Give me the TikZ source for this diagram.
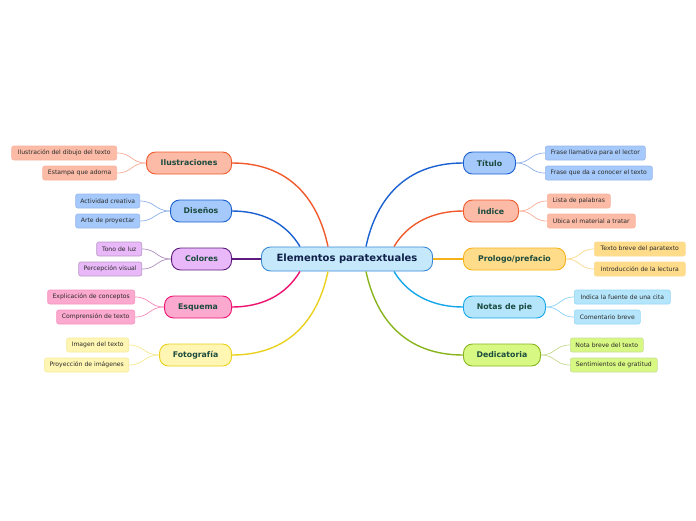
\documentclass[tikz,border=0pt]{standalone}
\usepackage{fontspec}
\setmainfont{DejaVu Sans}
\definecolor{cenfill}{HTML}{C5E9FB}
\definecolor{cenline}{HTML}{3A8AD8}
\definecolor{centext}{HTML}{10204A}
\definecolor{brtext}{HTML}{1B4B3E}
\definecolor{leaftext}{HTML}{2A2A2A}
\definecolor{orafill}{HTML}{FBBBA6}
\definecolor{oraline}{HTML}{F15A2B}
\definecolor{blufill}{HTML}{A5C9FA}
\definecolor{bluline}{HTML}{1A60D0}
\definecolor{purfill}{HTML}{E9B8F8}
\definecolor{purline}{HTML}{5E1C7E}
\definecolor{pinfill}{HTML}{FBA9CF}
\definecolor{pinline}{HTML}{EC1270}
\definecolor{yelfill}{HTML}{FFF6B3}
\definecolor{yelline}{HTML}{E9D11E}
\definecolor{golfill}{HTML}{FFDC8A}
\definecolor{golline}{HTML}{F7B21B}
\definecolor{cyafill}{HTML}{B5E5FB}
\definecolor{cyaline}{HTML}{16A6EA}
\definecolor{limfill}{HTML}{D8F884}
\definecolor{limline}{HTML}{88B51C}

\begin{document}
\begin{tikzpicture}[x=1pt, y=-1pt,
  central/.style={draw=cenline, fill=cenfill, line width=0.9pt, rounded corners=9pt,
    minimum height=24pt, inner sep=0pt, text=centext, font=\fontsize{10}{12}\selectfont\bfseries},
  branch/.style={line width=0.9pt, rounded corners=9pt, minimum height=22pt, inner sep=0pt,
    text=brtext, font=\fontsize{7.8}{9}\selectfont\bfseries},
  leaf/.style={line width=0.6pt, rounded corners=2pt, minimum height=14pt, inner sep=0pt,
    text=leaftext, font=\fontsize{6.1}{7}\selectfont},
  main/.style={line width=1.4pt},
  twig/.style={line width=0.7pt}]

\useasboundingbox (0,0) rectangle (696,520);

% centre
\node[central, minimum width=171pt] (cen) at (347,259) {Elementos paratextuales};

% left branches
\node[branch, draw=oraline, fill=orafill, minimum width=85pt, anchor=east] (ilu) at (232,163) {Ilustraciones};
\node[branch, draw=bluline, fill=blufill, minimum width=61pt, anchor=east] (dis) at (232,211) {Diseños};
\node[branch, draw=purline, fill=purfill, minimum width=60pt, anchor=east] (col) at (232,259) {Colores};
\node[branch, draw=pinline, fill=pinfill, minimum width=67pt, anchor=east] (esq) at (232,307) {Esquema};
\node[branch, draw=yelline, fill=yelfill, minimum width=72pt, anchor=east] (fot) at (232,355) {Fotografía};

% right branches
\node[branch, draw=bluline, fill=blufill, minimum width=52pt, anchor=west] (tit) at (463,163) {Título};
\node[branch, draw=oraline, fill=orafill, minimum width=55pt, anchor=west] (ind) at (463,211) {Índice};
\node[branch, draw=golline, fill=golfill, minimum width=102pt, anchor=west] (pro) at (463,259) {Prologo/prefacio};
\node[branch, draw=cyaline, fill=cyafill, minimum width=82pt, anchor=west] (not) at (463,307) {Notas de pie};
\node[branch, draw=limline, fill=limfill, minimum width=77pt, anchor=west] (ded) at (463,355) {Dedicatoria};

% left leaves
\node[leaf, draw=oraline!45, fill=orafill, minimum width=105pt, anchor=east] (ilu1) at (117,153) {Ilustración del dibujo del texto};
\node[leaf, draw=oraline!45, fill=orafill, minimum width=74pt, anchor=east] (ilu2) at (117,173) {Estampa que adorna};
\node[leaf, draw=bluline!45, fill=blufill, minimum width=64pt, anchor=east] (dis1) at (140,201) {Actividad creativa};
\node[leaf, draw=bluline!45, fill=blufill, minimum width=64pt, anchor=east] (dis2) at (140,221) {Arte de proyectar};
\node[leaf, draw=purline!45, fill=purfill, minimum width=45pt, anchor=east] (col1) at (142,249) {Tono de luz};
\node[leaf, draw=purline!45, fill=purfill, minimum width=63pt, anchor=east] (col2) at (142,269) {Percepción visual};
\node[leaf, draw=pinline!45, fill=pinfill, minimum width=87pt, anchor=east] (esq1) at (135,297) {Explicación de conceptos};
\node[leaf, draw=pinline!45, fill=pinfill, minimum width=78pt, anchor=east] (esq2) at (135,317) {Comprensión de texto};
\node[leaf, draw=yelline!45, fill=yelfill, minimum width=62pt, anchor=east] (fot1) at (129,345) {Imagen del texto};
\node[leaf, draw=yelline!45, fill=yelfill, minimum width=84pt, anchor=east] (fot2) at (129,365) {Proyección de imágenes};

% right leaves
\node[leaf, draw=bluline!45, fill=blufill, minimum width=100pt, anchor=west] (tit1) at (545,153) {Frase llamativa para el lector};
\node[leaf, draw=bluline!45, fill=blufill, minimum width=107pt, anchor=west] (tit2) at (545,173) {Frase que da a conocer el texto};
\node[leaf, draw=oraline!45, fill=orafill, minimum width=63pt, anchor=west] (ind1) at (547,201) {Lista de palabras};
\node[leaf, draw=oraline!45, fill=orafill, minimum width=88pt, anchor=west] (ind2) at (547,221) {Ubica el material a tratar};
\node[leaf, draw=golline!45, fill=golfill, minimum width=91pt, anchor=west] (pro1) at (594,249) {Texto breve del paratexto};
\node[leaf, draw=golline!45, fill=golfill, minimum width=91pt, anchor=west] (pro2) at (594,269) {Introducción de la lectura};
\node[leaf, draw=cyaline!45, fill=cyafill, minimum width=96pt, anchor=west] (not1) at (574,297) {Indica la fuente de una cita};
\node[leaf, draw=cyaline!45, fill=cyafill, minimum width=66pt, anchor=west] (not2) at (574,317) {Comentario breve};
\node[leaf, draw=limline!45, fill=limfill, minimum width=73pt, anchor=west] (ded1) at (570,345) {Nota breve del texto};
\node[leaf, draw=limline!45, fill=limfill, minimum width=87pt, anchor=west] (ded2) at (570,365) {Sentimientos de gratitud};

% main connectors
\draw[main, oraline] ([xshift=-19pt]cen.north) .. controls +(-10,-47) and +(58,0) .. (ilu.east);
\draw[main, bluline] ([xshift=-47pt]cen.north) .. controls +(-15,-25) and +(28,0) .. (dis.east);
\draw[main, purline] (cen.west) -- (col.east);
\draw[main, pinline] ([xshift=-47pt]cen.south) .. controls +(-15,25) and +(28,0) .. (esq.east);
\draw[main, yelline] ([xshift=-19pt]cen.south) .. controls +(-10,47) and +(58,0) .. (fot.east);
\draw[main, bluline] ([xshift=19pt]cen.north) .. controls +(10,-47) and +(-58,0) .. (tit.west);
\draw[main, oraline] ([xshift=47pt]cen.north) .. controls +(15,-25) and +(-28,0) .. (ind.west);
\draw[main, golline] (cen.east) -- (pro.west);
\draw[main, cyaline] ([xshift=47pt]cen.south) .. controls +(15,25) and +(-28,0) .. (not.west);
\draw[main, limline] ([xshift=19pt]cen.south) .. controls +(10,47) and +(-58,0) .. (ded.west);

% leaf connectors
\foreach \b/\c in {ilu/oraline, dis/bluline, col/purline, esq/pinline, fot/yelline}
  \foreach \k in {1,2}
    \draw[twig, \c!50] (\b.west) .. controls +(-15,0) and +(15,0) .. (\b\k.east);
\foreach \b/\c in {tit/bluline, ind/oraline, pro/golline, not/cyaline, ded/limline}
  \foreach \k in {1,2}
    \draw[twig, \c!50] (\b.east) .. controls +(15,0) and +(-15,0) .. (\b\k.west);

\end{tikzpicture}
\end{document}
